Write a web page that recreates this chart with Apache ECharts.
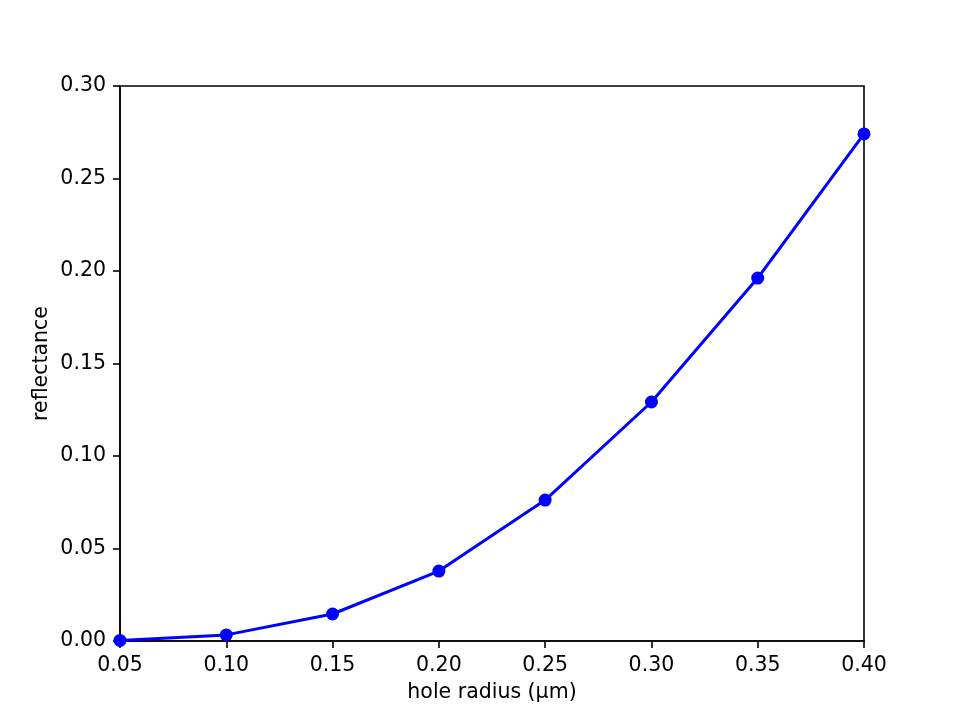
<!DOCTYPE html>
<html>
<head>
<meta charset="utf-8">
<script src="https://cdn.jsdelivr.net/npm/echarts@6/dist/echarts.min.js"></script>
<style>
  html, body { margin: 0; padding: 0; background: #fff; }
  #chart { width: 960px; height: 720px; }
</style>
</head>
<body>
<div id="chart"></div>
<script>
// hole radius (um) vs reflectance
const holeRadius = [0.05, 0.10, 0.15, 0.20, 0.25, 0.30, 0.35, 0.40];
const reflectance = [0.0003, 0.0033, 0.0146, 0.0378, 0.0762, 0.1292, 0.1962, 0.2741];

const font = 'DejaVu Sans';
const chart = echarts.init(document.getElementById('chart'), null, { renderer: 'canvas' });

const axisCommon = {
  axisLine: { show: true, lineStyle: { color: '#000', width: 1.6 } },
  axisTick: { show: true, inside: false, length: 7, lineStyle: { color: '#000', width: 1.6 } },
  splitLine: { show: false },
  axisLabel: {
    color: '#000', fontFamily: font, fontSize: 20.5, margin: 14,
    formatter: v => v.toFixed(2)
  },
  nameLocation: 'middle',
  nameMoveOverlap: false,
  nameTextStyle: { color: '#000', fontFamily: font, fontSize: 20.5 }
};

chart.setOption({
  animation: false,
  backgroundColor: '#fff',
  grid: {
    left: 120, right: 96, top: 86, bottom: 79,
    show: true, borderColor: '#000', borderWidth: 1.6, backgroundColor: 'transparent'
  },
  xAxis: Object.assign({}, axisCommon, {
    type: 'value',
    min: 0.05, max: 0.40, interval: 0.05,
    name: 'hole radius (µm)',
    nameGap: 41
  }),
  yAxis: Object.assign({}, axisCommon, {
    type: 'value',
    min: 0, max: 0.30, interval: 0.05,
    name: 'reflectance',
    nameGap: 68
  }),
  series: [{
    type: 'line',
    data: holeRadius.map((x, i) => [x, reflectance[i]]),
    symbol: 'circle',
    symbolSize: 13,
    lineStyle: { color: '#0000ff', width: 3 },
    itemStyle: { color: '#0000ff' },
    clip: false
  }]
});
</script>
</body>
</html>
